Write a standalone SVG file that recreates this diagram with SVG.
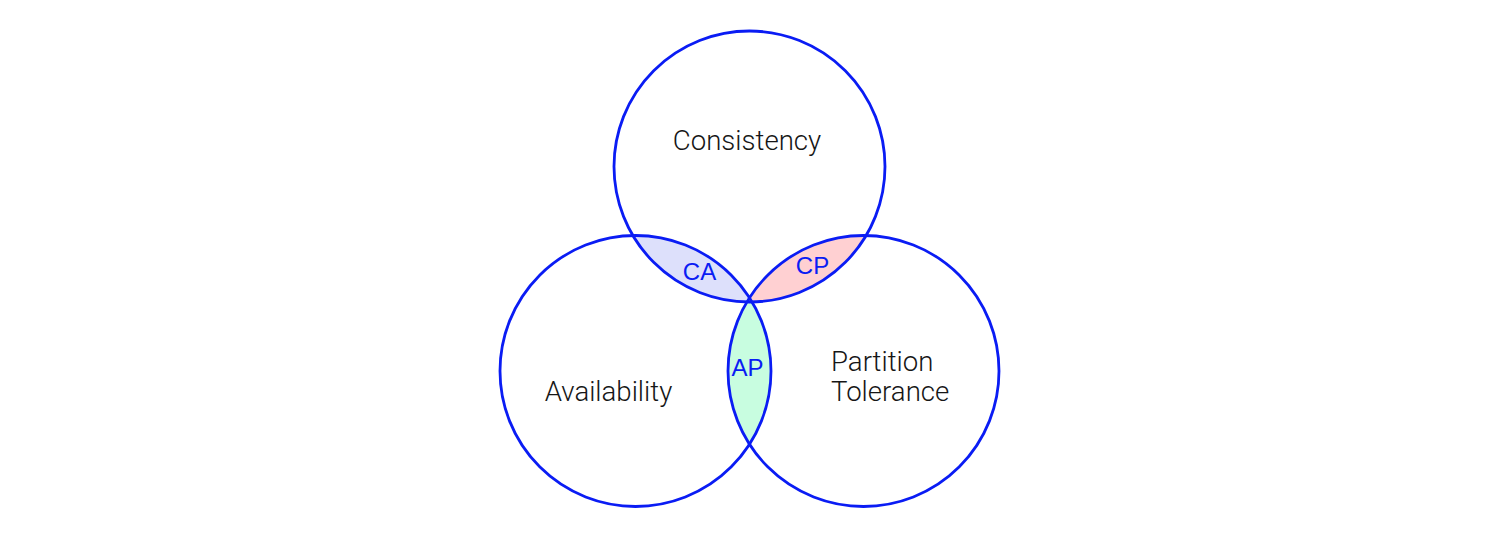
<svg xmlns="http://www.w3.org/2000/svg" width="1500" height="539" viewBox="0 0 1500 539">
<style>
.ring{fill:none;stroke:#0a1cf4;stroke-width:2.8}
.lens{stroke:none}
.name{font-family:Roboto,"Liberation Sans",sans-serif;font-weight:300;font-size:27.6px;fill:#161616}
.pair{font-family:"Liberation Sans",Arial,sans-serif;font-size:24px;fill:#0a1cf4;text-anchor:middle}
</style>
<rect width="1500" height="539" fill="#ffffff"/>
<g id="regions">
<g id="ca-region"><path class="lens" fill="#dde0fb" d="M632.91 235.53 A135.5 135.5 0 0 0 752.09 301.97 A135.5 135.5 0 0 0 632.91 235.53 Z"/></g>
<g id="cp-region"><path class="lens" fill="#ffd0d2" d="M866.09 235.53 A135.5 135.5 0 0 1 746.91 301.97 A135.5 135.5 0 0 1 866.09 235.53 Z"/></g>
<g id="ap-region"><path class="lens" fill="#c8fde0" d="M749.5 297.76 A135.5 135.5 0 0 1 749.5 444.24 A135.5 135.5 0 0 1 749.5 297.76 Z"/></g>
</g>
<g id="consistency"><circle class="ring" cx="749.5" cy="166.5" r="135.5"/><text class="name" x="747" y="150" text-anchor="middle">Consistency</text></g>
<g id="availability"><circle class="ring" cx="635.5" cy="371" r="135.5"/><text class="name" x="608.5" y="401" text-anchor="middle">Availability</text></g>
<g id="partition-tolerance"><circle class="ring" cx="863.5" cy="371" r="135.5"/><text class="name" x="831" y="371">Partition</text><text class="name" x="831" y="401">Tolerance</text></g>
<g id="labels">
<text class="pair" x="699.5" y="280">CA</text>
<text class="pair" x="812.5" y="274">CP</text>
<text class="pair" x="747.5" y="376">AP</text>
</g>
</svg>
